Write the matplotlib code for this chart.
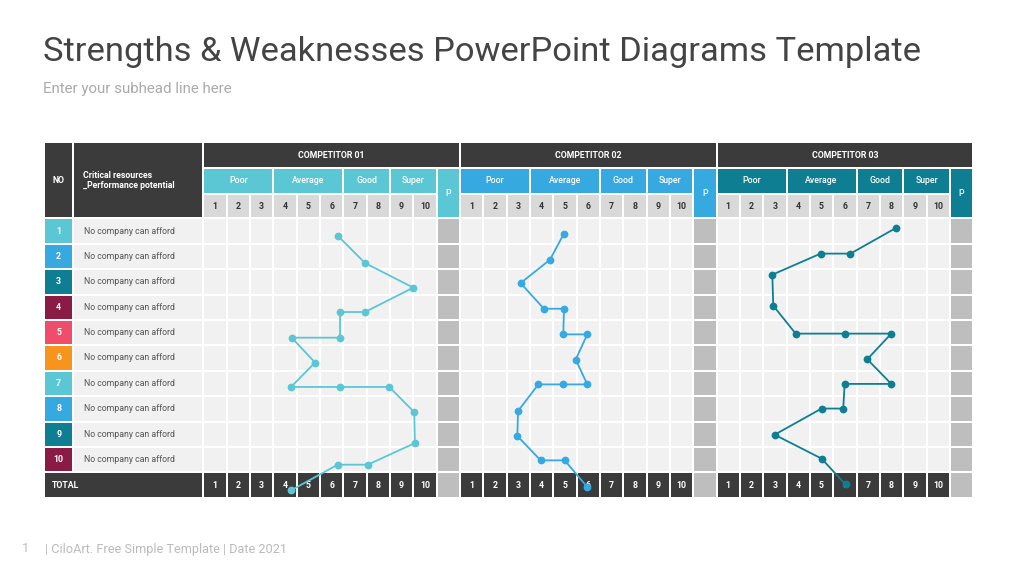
import matplotlib
matplotlib.use("Agg")
import matplotlib.pyplot as plt
from matplotlib.patches import Rectangle

plt.rcParams['font.family'] = ['Roboto', 'DejaVu Sans']

# ---------------- data ----------------
title = "Strengths & Weaknesses PowerPoint Diagrams Template"
subtitle = "Enter your subhead line here"
footer_num = "1"
footer = "| CiloArt. Free Simple Template | Date 2021"

competitors = ["COMPETITOR 01", "COMPETITOR 02", "COMPETITOR 03"]
comp_colors = ["#5BC7D5", "#36A9E1", "#0E7F93"]
grades = ["Poor", "Average", "Good", "Super"]
grade_spans = [3, 3, 2, 2]
scale_labels = [str(i) for i in range(1, 11)]
row_numbers = [str(i) for i in range(1, 11)]
row_labels = ["No company can afford"] * 10
row_colors = ["#5BC7D5", "#36A9E1", "#0E7F93", "#8A1B45", "#F04D6D",
              "#F7941E", "#5BC7D5", "#36A9E1", "#0E7F93", "#8A1B45"]

# polyline vertices: x in score-column units (0..10), y in row units (1..10, total = 11)
comp1_x = [5.79, 6.93, 9.00, 6.93, 5.86, 5.86, 3.79, 4.79, 3.76, 5.86, 7.97, 9.04, 9.07, 7.05, 5.76, 3.76]
comp1_y = [1.21, 2.26, 3.23, 4.19, 4.19, 5.20, 5.20, 6.18, 7.14, 7.14, 7.14, 8.13, 9.35, 10.20, 10.20, 11.21]
comp2_x = [4.46, 3.86, 2.60, 3.60, 4.46, 4.43, 5.46, 4.96, 5.46, 4.43, 3.36, 2.49, 2.46, 3.46, 4.49, 5.46]
comp2_y = [1.10, 2.13, 3.05, 4.06, 4.06, 5.07, 5.07, 6.06, 7.04, 7.04, 7.04, 8.09, 9.07, 10.03, 10.03, 11.08]
comp3_x = [7.71, 5.74, 4.46, 2.39, 2.43, 3.39, 5.49, 7.49, 6.46, 7.49, 5.49, 5.43, 4.50, 2.49, 4.50, 5.53]
comp3_y = [0.87, 1.89, 1.89, 2.72, 3.94, 5.04, 5.04, 5.04, 6.05, 7.02, 7.02, 7.99, 7.99, 9.02, 9.96, 10.98]
series_x = [comp1_x, comp2_x, comp3_x]
series_y = [comp1_y, comp2_y, comp3_y]

# ---------------- layout ----------------
W, H = 1024, 576
fig = plt.figure(figsize=(W / 100, H / 100), dpi=100)
bg = fig.add_axes([0, 0, 1, 1])
bg.set_xlim(0, W)
bg.set_ylim(H, 0)
bg.axis("off")

DARK = "#3B3B3B"
CELL = "#F1F1F1"
NUMCELL = "#D9D9D9"
PCELL = "#BEBEBE"
G = 1.0  # half gap

XL = 44.0
X_NO = 73.3
X_CR = 203.3
CW = 23.33
BW = 11 * CW
Y0 = 142.3
Y1 = 167.7
Y2 = 193.9
Y3 = 218.3
RH = 25.4
Y_TOT = Y3 + 10 * RH
Y_END = Y_TOT + RH


def cell(x0, y0, x1, y1, color):
    bg.add_patch(Rectangle((x0 + G, y0 + G), (x1 - x0) - 2 * G, (y1 - y0) - 2 * G,
                           facecolor=color, edgecolor="none", zorder=1))


def txt(x, y, s, size=6.3, color="white", weight="bold", ha="center", va="center", **kw):
    bg.text(x, y, s, fontsize=size, color=color, fontweight=weight, ha=ha, va=va, zorder=3, **kw)


# title texts
bg.text(43, 52, title, fontsize=24.8, color="#444444", ha="left", va="center")
bg.text(43, 89, subtitle, fontsize=10.9, color="#AAAAAA", ha="left", va="center")
bg.text(22, 549, footer_num, fontsize=9.2, color="#BBBBBB", ha="left", va="center")
bg.text(45, 549, footer, fontsize=9.2, color="#BBBBBB", ha="left", va="center")

# left header
cell(XL, Y0, X_NO, Y3, DARK)
txt((XL + X_NO) / 2, (Y0 + Y3) / 2, "NO")
cell(X_NO, Y0, X_CR, Y3, DARK)
txt(X_NO + 10, (Y0 + Y3) / 2, "Critical resources\n_Performance potential", ha="left",
    linespacing=1.2)

# left body
for i in range(10):
    ya = Y3 + i * RH
    yb = ya + RH
    cell(XL, ya, X_NO, yb, row_colors[i])
    txt((XL + X_NO) / 2, (ya + yb) / 2, row_numbers[i], weight="bold")
    cell(X_NO, ya, X_CR, yb, CELL)
    txt(X_NO + 11, (ya + yb) / 2, row_labels[i], color="#555555", weight="normal", ha="left")
cell(XL, Y_TOT, X_CR, Y_END, DARK)
txt(XL + 8, (Y_TOT + Y_END) / 2, "TOTAL", ha="left")

# competitor blocks
for b, name in enumerate(competitors):
    bx = X_CR + b * BW
    col = comp_colors[b]
    cell(bx, Y0, bx + BW, Y1, DARK)
    txt(bx + BW / 2, (Y0 + Y1) / 2, name)
    # grade row
    c0 = 0
    for g, span in zip(grades, grade_spans):
        xa = bx + c0 * CW
        xb = xa + span * CW
        cell(xa, Y1, xb, Y2, col)
        txt((xa + xb) / 2, (Y1 + Y2) / 2, g, weight="medium")
        c0 += span
    # P header
    px0 = bx + 10 * CW
    cell(px0, Y1, px0 + CW, Y3, col)
    txt(px0 + CW / 2, (Y1 + Y3) / 2, "P", weight="medium")
    # number header
    for k in range(10):
        xa = bx + k * CW
        cell(xa, Y2, xa + CW, Y3, NUMCELL)
        txt(xa + CW / 2, (Y2 + Y3) / 2, scale_labels[k], color="#333333")
    # body
    for i in range(10):
        ya = Y3 + i * RH
        for k in range(10):
            xa = bx + k * CW
            cell(xa, ya, xa + CW, ya + RH, CELL)
        cell(px0, ya, px0 + CW, ya + RH, PCELL)
    # total row
    for k in range(10):
        xa = bx + k * CW
        cell(xa, Y_TOT, xa + CW, Y_END, DARK)
        txt(xa + CW / 2, (Y_TOT + Y_END) / 2, scale_labels[k])
    cell(px0, Y_TOT, px0 + CW, Y_END, PCELL)

    # data axes over the 10 score columns, rows 1..11
    ax = fig.add_axes([bx / W, 1 - Y_END / H, 10 * CW / W, (Y_END - Y3) / H])
    ax.set_xlim(0, 10)
    ax.set_ylim(11.5, 0.5)
    ax.axis("off")
    ax.patch.set_alpha(0)
    ax.plot(series_x[b], series_y[b], color=col, lw=1.3, marker="o", ms=5.6,
            markeredgewidth=0, clip_on=False, zorder=5)

fig.savefig("out.png", dpi=100, facecolor="white")
